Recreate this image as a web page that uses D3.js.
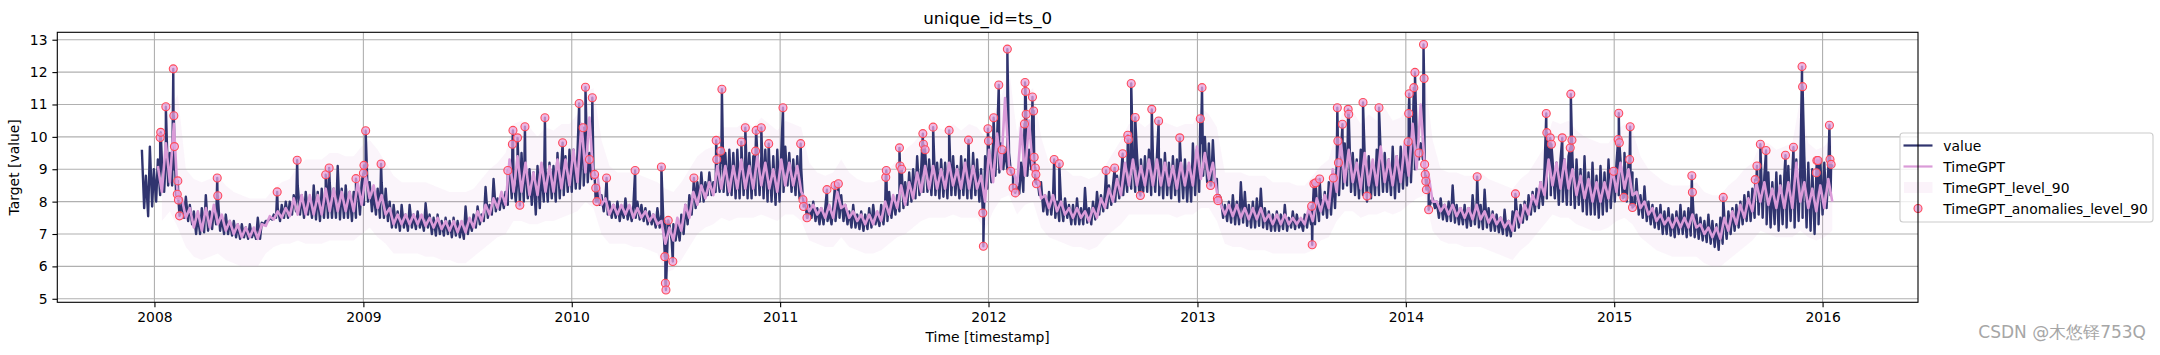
<!DOCTYPE html>
<html>
<head>
<meta charset="utf-8">
<script src="https://cdn.jsdelivr.net/npm/d3@7"></script>
<style>
  html, body { margin: 0; padding: 0; background: #ffffff; }
  svg { display: block; }
  text { font-family: "DejaVu Sans", sans-serif; }
</style>
</head>
<body>
<svg id="chart" width="2160" height="355"></svg>
<script>
// ---------------- data ----------------
const chartTitle = "unique_id=ts_0";
const xLabel = "Time [timestamp]";
const yLabel = "Target [value]";
const seriesNames = ["value", "TimeGPT", "TimeGPT_level_90", "TimeGPT_anomalies_level_90"];
const watermark = "CSDN @木悠铎753Q";

const startDate = "2007-12-10";   // first week (Monday) of the series
const lastDate = "2016-01-20";    // last observation
const tgStartWeek = 4;            // TimeGPT fit starts in week 4 (2008-01-07)

// weekly peak (excluding flagged anomalies) of "value", one per week from startDate
const valueHigh = [
  9.6,8.8,9.7,9.0,9.3,9.3,9.4,9.5,9.0,8.2, 8.0,8.15,7.9,7.7,7.6,7.8,8.2,7.7,7.8,7.8,
  7.5,7.6,7.4,7.4,7.3,7.3,7.2,7.3,7.1,7.5, 7.35,7.4,7.5,7.6,7.8,7.9,8.0,8.0,8.2,8.5,
  8.2,8.3,8.1,8.5,8.3,8.4,8.4,8.6,8.4,9.1, 8.4,8.5,8.3,8.3,8.4,8.6,
  8.8,8.6,8.3,8.4,8.6,8.4,8.0,7.9,7.7,7.9, 7.6,7.9,7.6,7.7,7.5,7.95,7.6,7.5,7.6,7.4,
  7.5,7.4,7.5,7.4,7.3,7.85,7.4,7.6,7.85,7.6, 8.45,7.9,8.7,8.1,8.2,8.3,9.0,8.7,8.8,9.5,
  8.9,9.0,8.9,9.1,9.0,9.0,9.2,9.1,9.5,9.2, 9.4,9.6,
  9.6,9.5,9.4,9.6,9.5,9.0,8.5,8.2,8.1,8.0, 7.9,8.0,7.8,8.1,7.8,7.9,8.0,7.9,7.8,7.7,
  7.6,7.8,7.6,7.4,7.3,7.3,7.3,7.6,7.9,8.2, 8.4,8.6,8.9,8.6,8.9,8.6,9.0,9.2,9.5,9.6,
  9.5,9.6,9.4,9.4,9.5,9.4,9.5,9.4,9.6,9.3, 9.4,9.6,
  9.5,9.7,9.5,9.3,9.4,9.0,8.0,7.9,8.0,7.8, 7.8,7.8,7.7,7.8,7.9,8.2,7.9,7.7,7.9,7.6,
  7.7,7.6,7.8,7.9,7.6,7.9,7.9,8.3,8.1,8.2, 8.3,8.6,8.9,9.0,9.4,9.0,9.6,9.3,9.2,9.2,
  9.3,9.2,9.3,9.4,9.1,9.4,9.3,9.2,9.5,9.3, 9.0,9.4,
  9.6,9.8,9.9,9.8,9.6,9.5,8.8,8.6,9.2,9.4, 9.6,9.5,8.8,8.6,8.2,8.3,8.1,8.0,8.0,8.1,
  7.9,7.9,8.1,7.8,8.42,7.8,8.0,8.3,8.2,8.3, 8.5,8.5,8.8,8.8,9.0,9.3,9.4,9.5,9.3,9.4,
  9.6,9.4,9.4,9.3,9.5,9.2,9.4,9.3,9.2,9.3, 9.1,9.8,
  9.6,9.8,10.0,9.8,9.9,8.7,8.1,7.9,8.0,8.2, 8.0,8.6,8.3,7.9,8.0,8.1,8.4,7.8,7.7,7.6,
  7.7,7.6,7.9,7.5,7.7,7.6,7.4,7.6,7.7,7.8, 8.0,8.1,8.3,8.6,8.6,9.2,9.4,9.8,9.5,9.5,
  9.3,9.6,9.4,9.4,9.2,9.6,9.5,9.5,9.3,9.7, 9.4,9.7,
  9.6,9.8,10.0,10.0,9.8,9.2,8.5,8.1,8.0,8.1, 7.9,8.0,8.5,7.9,7.8,7.9,7.8,8.2,7.9,7.9,
  8.37,7.8,7.7,7.6,7.5,7.75,7.4,7.7,7.8,7.9, 8.0,8.2,8.3,8.4,8.6,9.0,9.2,9.3,9.2,9.3,
  9.3,9.4,9.3,9.3,9.0,9.4,8.9,9.2,8.8,9.1, 8.9,9.3,
  8.8,9.2,9.3,9.5,9.2,8.9,8.7,8.2,8.47,8.0, 7.9,7.8,7.9,7.7,7.8,7.6,7.7,7.9,7.7,7.8,
  7.7,7.6,7.5,7.4,7.6,7.4,7.3,7.5,7.5,7.7, 7.8,7.9,8.0,8.2,8.3,8.4,8.6,8.8,8.8,8.9,
  8.6,8.9,8.8,8.8,9.1,8.9,9.3,9.0,9.4,9.2, 9.0,8.8,9.3,9.2,9.0,9.1
];

// weekly trough of "value"
const valueLow = [
  7.8,7.55,7.85,8.0,8.2,8.3,8.5,8.5,8.2,7.6, 7.5,7.4,7.3,7.0,7.0,7.05,7.1,7.15,7.3,7.1,
  7.0,7.0,6.95,6.9,6.85,6.9,6.85,6.9,6.85,6.85, 7.3,7.4,7.45,7.5,7.4,7.5,7.5,7.6,7.7,7.6,
  7.5,7.6,7.5,7.45,7.4,7.5,7.5,7.5,7.5,7.45, 7.5,7.5,7.4,7.5,7.6,7.9,
  8.0,7.7,7.6,7.5,7.5,7.4,7.2,7.2,7.1,7.2, 7.1,7.2,7.15,7.2,7.1,7.2,7.0,6.95,7.0,6.95,
  7.0,6.9,6.95,6.9,6.85,7.0,7.1,7.2,7.3,7.4, 7.5,7.6,7.7,7.75,7.8,7.9,8.1,8.0,8.0,8.0,
  8.1,7.9,7.6,7.8,8.0,8.0,8.1,8.0,8.1,8.2, 8.3,8.3,
  8.4,8.4,8.5,8.6,8.7,8.0,7.9,7.7,7.6,7.5, 7.5,7.4,7.5,7.45,7.4,7.5,7.45,7.4,7.3,7.3,
  7.2,7.2,7.1,6.9,6.8,6.8,6.8,7.0,7.3,7.6, 7.8,8.0,8.0,8.2,8.2,8.3,8.3,8.3,8.2,8.2,
  8.1,8.1,8.2,8.1,8.1,8.2,8.2,8.1,8.0,8.0, 7.9,8.0,
  8.3,8.5,8.3,8.2,8.1,8.0,7.5,7.5,7.4,7.3, 7.3,7.4,7.3,7.4,7.5,7.4,7.3,7.2,7.2,7.15,
  7.1,7.15,7.2,7.3,7.25,7.3,7.4,7.5,7.6,7.7, 7.8,7.9,8.0,8.1,8.2,8.3,8.3,8.2,8.2,8.1,
  8.15,8.1,8.2,8.2,8.1,8.2,8.1,8.1,8.2,8.0, 8.0,8.4,
  8.6,8.8,8.9,9.0,9.0,8.9,8.3,8.25,8.3,8.8, 9.0,8.6,8.2,7.7,7.6,7.6,7.5,7.4,7.4,7.5,
  7.3,7.3,7.3,7.3,7.35,7.3,7.45,7.6,7.7,7.8, 7.9,8.0,8.1,8.2,8.3,8.4,8.3,8.3,8.3,8.3,
  8.2,8.3,8.2,8.1,8.2,8.1,8.2,8.0,8.1,8.0, 8.0,8.2,
  8.3,8.8,8.6,8.5,8.5,8.2,7.5,7.4,7.35,7.3, 7.3,7.35,7.25,7.2,7.2,7.25,7.2,7.15,7.1,7.1,
  7.1,7.15,7.1,7.2,7.15,7.2,7.1,7.2,7.3,7.3, 7.4,7.6,7.5,7.6,7.8,8.2,8.4,8.5,8.3,8.2,
  8.1,8.2,8.0,8.1,8.2,8.2,8.3,8.3,8.2,8.1, 8.3,8.4,
  8.5,8.6,9.0,9.3,9.3,8.8,8.0,7.8,7.5,7.45, 7.4,7.4,7.35,7.3,7.3,7.2,7.25,7.3,7.2,7.15,
  7.2,7.1,7.1,7.05,7.0,6.95,6.93,7.1,7.2,7.35, 7.45,7.6,7.7,7.8,7.9,8.1,8.2,8.1,7.9,8.0,
  7.9,7.9,7.8,7.9,7.7,7.6,7.6,7.6,7.5,7.6, 7.7,7.8,
  8.0,8.2,8.1,8.0,7.9,7.9,7.6,7.5,7.4,7.3, 7.2,7.15,7.0,7.0,6.95,6.9,7.0,7.0,6.9,6.95,
  6.9,6.85,6.8,6.75,6.7,6.6,6.51,6.7,6.85,7.0, 7.1,7.2,7.3,7.4,7.4,7.5,7.6,7.5,7.3,7.2,
  7.3,7.1,7.3,7.2,7.4,7.2,7.4,7.5,7.2,7.1, 7.0,7.3,7.6,7.8,8.2,9.1
];

// TimeGPT fitted values, two-week peaks and troughs from tgStartWeek
const tgHigh = [
  9.1,9.8,10.4,8.1,7.8,7.7,7.8,7.9,7.6,7.4, 7.3,7.2,7.2,7.3,7.55,7.7,7.8,8.1,8.2,8.2,
  8.2,8.4,8.4,8.3,8.3,8.6,8.8,8.5,8.2,7.8, 7.6,7.6,7.6,7.6,7.5,7.5,7.4,7.4,7.4,7.5,
  7.7,7.9,8.1,8.3,9.3,9.4,9.2,8.9,9.2,9.1, 9.3,9.3,9.6,10.4,10.6,8.8,8.1,7.9,7.9,7.9,
  7.8,7.7,7.6,7.4,7.2,7.5,7.9,8.3,8.5,8.6, 9.1,9.1,9.1,9.3,9.1,9.4,9.2,9.0,9.3,9.2,
  9.1,8.1,7.9,7.8,7.9,8.3,7.9,7.7,7.6,7.6, 7.7,8.0,8.2,8.5,8.6,8.9,9.1,9.1,9.0,9.2,
  9.0,9.2,9.1,8.8,9.6,10.1,11.2,9.0,10.3,10.5, 8.9,8.2,8.2,8.0,7.8,7.8,7.7,7.8,8.1,8.4,
  8.7,9.2,9.3,9.1,9.3,9.3,9.2,9.1,9.2,9.2, 9.7,9.5,9.2,7.9,7.9,7.9,7.8,7.8,7.8,7.6,
  7.6,7.6,7.5,7.5,7.8,8.1,8.2,9.0,9.9,9.6, 9.2,9.5,9.3,9.7,9.3,9.4,9.8,10.4,11.0,8.8,
  8.0,7.9,7.9,7.8,7.8,7.9,7.7,7.6,7.5,7.4, 7.7,7.9,8.2,8.6,9.3,9.2,9.3,9.0,8.8,8.7,
  8.6,8.6,9.0,9.2,9.0,8.3,8.0,7.8,7.6,7.5, 7.5,7.5,7.6,7.3,7.2,7.2,7.5,7.7,7.9,8.1,
  8.6,8.6,8.4,8.5,8.6,9.2,8.6,8.4,8.5,8.7
];
const tgLow = [
  8.3,8.6,8.1,7.5,7.2,7.1,7.2,7.3,7.1,7.0, 6.9,6.9,6.85,7.25,7.45,7.5,7.55,7.6,7.6,7.6,
  7.6,7.7,7.7,7.7,7.7,7.9,8.1,7.8,7.6,7.3, 7.3,7.3,7.3,7.25,7.2,7.15,7.1,7.05,7.05,7.2,
  7.4,7.6,7.8,7.9,8.3,8.3,8.2,8.2,8.3,8.3, 8.4,8.5,8.6,8.9,8.7,7.9,7.6,7.6,7.6,7.5,
  7.5,7.4,7.3,6.7,6.8,7.1,7.5,7.9,8.1,8.2, 8.4,8.3,8.4,8.4,8.4,8.5,8.4,8.3,8.5,8.5,
  8.3,7.7,7.6,7.5,7.5,7.8,7.5,7.4,7.3,7.3, 7.4,7.6,7.8,7.9,8.1,8.3,8.4,8.4,8.4,8.5,
  8.4,8.4,8.4,8.0,8.6,9.0,9.1,8.5,8.8,8.9, 8.1,7.8,7.7,7.6,7.5,7.5,7.4,7.5,7.8,8.0,
  8.2,8.5,8.5,8.5,8.5,8.5,8.5,8.4,8.5,8.5, 8.7,8.7,8.3,7.6,7.55,7.5,7.45,7.45,7.4,7.3,
  7.3,7.3,7.3,7.3,7.4,7.7,7.8,8.3,8.6,8.6, 8.4,8.5,8.5,8.6,8.5,8.6,8.8,9.0,9.1,8.0,
  7.7,7.6,7.55,7.5,7.45,7.45,7.35,7.3,7.2,7.1, 7.35,7.6,7.9,8.2,8.5,8.4,8.4,8.2,8.1,8.0,
  8.0,8.1,8.3,8.4,8.2,7.8,7.6,7.4,7.3,7.2, 7.2,7.2,7.2,7.0,6.9,6.85,7.1,7.3,7.5,7.7,
  8.0,7.9,7.8,7.8,7.8,8.0,7.8,7.7,7.8,8.0
];

// TimeGPT 90% interval, two-week readings
const bandHigh = [
  10.0,10.9,11.3,9.0,8.7,8.6,8.7,8.8,8.5,8.3, 8.2,8.1,8.1,8.1,8.4,8.6,8.7,9.1,9.3,9.3,
  9.3,9.5,9.5,9.4,9.4,9.7,9.9,9.6,9.2,8.8, 8.6,8.6,8.6,8.6,8.5,8.4,8.3,8.3,8.3,8.4,
  8.7,9.0,9.2,9.5,10.4,10.5,10.3,10.0,10.3,10.2, 10.4,10.4,10.7,11.4,11.5,9.9,9.1,8.9,8.9,8.9,
  8.8,8.7,8.6,8.4,8.3,8.6,9.0,9.4,9.6,9.7, 10.3,10.3,10.3,10.5,10.3,10.6,10.4,10.2,10.5,10.4,
  10.3,9.2,8.9,8.8,8.9,9.3,8.9,8.7,8.6,8.6, 8.7,9.0,9.3,9.6,9.8,10.1,10.3,10.3,10.2,10.4,
  10.2,10.4,10.3,10.0,10.7,11.2,12.1,10.1,11.3,11.5, 10.0,9.2,9.2,9.0,8.8,8.8,8.7,8.8,9.1,9.5,
  9.9,10.4,10.5,10.3,10.5,10.5,10.4,10.3,10.4,10.4, 10.9,10.7,10.3,8.9,8.9,8.9,8.8,8.8,8.8,8.6,
  8.6,8.6,8.5,8.5,8.8,9.1,9.3,10.2,11.0,10.8, 10.4,10.7,10.5,10.9,10.5,10.6,11.0,11.4,11.9,9.9,
  9.0,8.9,8.9,8.8,8.8,8.9,8.7,8.6,8.5,8.4, 8.7,8.9,9.3,9.7,10.5,10.4,10.5,10.2,10.0,9.9,
  9.8,9.8,10.2,10.4,10.2,9.4,9.0,8.8,8.6,8.5, 8.5,8.5,8.6,8.3,8.2,8.2,8.5,8.7,9.0,9.2,
  9.8,9.8,9.6,9.7,9.8,11.2,9.8,9.6,9.7,10.0
];
const bandLow = [
  7.4,7.7,7.2,6.6,6.3,6.2,6.3,6.4,6.2,6.1, 6.0,6.0,6.0,6.4,6.6,6.7,6.7,6.8,6.7,6.7,
  6.7,6.8,6.8,6.8,6.8,7.0,7.2,6.9,6.7,6.4, 6.4,6.4,6.4,6.3,6.3,6.2,6.2,6.1,6.1,6.3,
  6.5,6.7,6.9,7.0,7.4,7.4,7.3,7.3,7.4,7.4, 7.5,7.6,7.7,8.0,7.8,7.0,6.7,6.7,6.7,6.6,
  6.6,6.5,6.4,5.8,5.9,6.2,6.6,7.0,7.2,7.3, 7.5,7.4,7.5,7.5,7.5,7.6,7.5,7.4,7.6,7.6,
  7.4,6.8,6.7,6.6,6.6,6.9,6.6,6.5,6.4,6.4, 6.5,6.7,6.9,7.0,7.2,7.4,7.5,7.5,7.5,7.6,
  7.5,7.5,7.5,7.1,7.7,8.1,8.2,7.6,7.9,8.0, 7.2,6.9,6.8,6.7,6.6,6.6,6.5,6.6,6.9,7.1,
  7.3,7.6,7.6,7.6,7.6,7.6,7.6,7.5,7.6,7.6, 7.8,7.8,7.4,6.7,6.6,6.6,6.5,6.5,6.5,6.4,
  6.4,6.4,6.4,6.4,6.5,6.8,6.9,7.4,7.7,7.7, 7.5,7.6,7.6,7.7,7.6,7.7,7.9,8.1,8.2,7.1,
  6.8,6.7,6.7,6.6,6.6,6.6,6.5,6.4,6.3,6.2, 6.5,6.7,7.0,7.3,7.6,7.5,7.5,7.3,7.2,7.1,
  7.1,7.2,7.4,7.5,7.3,6.9,6.7,6.5,6.4,6.3, 6.3,6.3,6.3,6.1,6.0,6.0,6.2,6.4,6.6,6.8,
  7.1,7.0,6.9,6.9,6.9,7.1,6.9,6.8,6.9,7.1
];

// points flagged as anomalies (outside the 90% interval)
const anomalyDates = [
  "2008-01-11","2008-01-12","2008-01-21","2008-02-03","2008-02-04","2008-02-05","2008-02-10","2008-02-11",
  "2008-02-12","2008-02-14","2008-04-20","2008-04-21","2008-08-03","2008-09-07","2008-10-27","2008-11-02",
  "2008-12-19","2009-01-01","2009-01-02","2009-01-05","2009-02-01","2009-09-11","2009-09-19","2009-09-20",
  "2009-09-28","2009-10-02","2009-10-11","2009-11-15","2009-12-16","2010-01-14","2010-01-21","2010-01-25",
  "2010-02-01","2010-02-06","2010-02-10","2010-02-12","2010-02-14","2010-03-03","2010-04-22","2010-06-07",
  "2010-06-13","2010-06-14","2010-06-15","2010-06-19","2010-06-27","2010-08-03","2010-09-11","2010-09-12",
  "2010-09-19","2010-09-21","2010-10-25","2010-11-01","2010-11-19","2010-11-20","2010-11-29","2010-12-12",
  "2011-01-06","2011-02-06","2011-02-10","2011-02-11","2011-02-17","2011-03-24","2011-04-07","2011-04-13",
  "2011-07-05","2011-07-06","2011-07-29","2011-07-30","2011-08-02","2011-09-08","2011-09-09","2011-09-12",
  "2011-09-26","2011-10-24","2011-11-27","2011-12-22","2011-12-23","2011-12-31","2012-01-01","2012-01-10",
  "2012-01-19","2012-01-25","2012-02-03","2012-02-09","2012-02-13","2012-02-17","2012-03-04","2012-03-05",
  "2012-03-06","2012-03-07","2012-03-18","2012-03-20","2012-03-21","2012-03-23","2012-03-24","2012-03-25",
  "2012-04-25","2012-05-04","2012-07-25","2012-08-09","2012-08-23","2012-09-01","2012-09-02","2012-09-07",
  "2012-09-14","2012-09-23","2012-10-13","2012-10-25","2012-12-01","2013-01-06","2013-01-09","2013-01-24",
  "2013-02-05","2013-02-06","2013-07-20","2013-07-21","2013-07-24","2013-07-27","2013-08-03","2013-08-27",
  "2013-09-03","2013-09-04","2013-09-05","2013-09-12","2013-09-22","2013-09-23","2013-10-18","2013-10-25",
  "2013-11-15","2014-01-05","2014-01-06","2014-01-07","2014-01-15","2014-01-17","2014-01-24","2014-02-01",
  "2014-02-02","2014-02-03","2014-02-04","2014-02-05","2014-02-06","2014-02-10","2014-05-06","2014-07-12",
  "2014-09-04","2014-09-05","2014-09-11","2014-09-13","2014-10-02","2014-10-16","2014-10-17","2014-10-19",
  "2014-12-31","2015-01-08","2015-01-09","2015-01-10","2015-01-18","2015-01-28","2015-01-29","2015-02-02",
  "2015-05-17","2015-05-18","2015-07-11","2015-09-05","2015-09-08","2015-09-14","2015-09-24","2015-10-28",
  "2015-11-11","2015-11-26","2015-11-27","2015-12-21","2015-12-22","2015-12-24","2016-01-13","2016-01-14",
  "2016-01-16"
];
const anomalyValues = [
  9.98,10.14,10.93,12.1,10.65,9.7,8.23,8.64,
  8.05,7.56,8.73,8.18,8.3,9.28,8.83,9.04,
  8.71,8.88,9.12,10.19,9.16,8.96,9.77,10.2,
  9.97,7.89,10.31,10.59,9.82,11.03,10.28,11.53,
  9.3,11.21,8.84,8.42,8.0,8.73,8.96,9.07,
  6.3,5.48,5.27,7.42,6.15,8.73,9.89,9.3,
  9.56,11.47,9.84,10.28,9.56,10.2,10.28,9.79,
  10.9,9.79,8.06,7.85,7.5,8.37,8.5,8.55,
  8.75,8.96,9.66,9.1,9.0,10.1,9.77,9.6,
  10.3,10.2,9.9,7.65,6.62,10.25,9.87,10.59,
  11.6,9.6,12.71,8.94,8.42,8.27,10.4,11.68,
  11.4,10.7,11.23,10.8,9.37,9.04,8.84,8.55,
  9.3,9.17,8.96,9.04,9.48,10.05,9.92,11.65,
  10.6,8.19,10.85,10.49,9.97,10.56,11.52,8.5,
  8.1,8.03,7.86,6.67,8.55,8.58,8.7,8.73,
  10.9,9.87,9.2,10.39,10.85,10.7,11.06,8.17,
  10.9,9.85,10.72,11.33,11.52,11.99,9.5,12.85,
  11.8,9.15,8.84,8.63,8.37,7.75,8.77,8.24,
  10.72,10.13,9.97,9.77,9.97,9.66,11.32,9.9,
  8.94,9.92,10.73,9.82,8.13,9.3,10.31,7.82,
  8.8,8.29,8.13,8.68,9.1,9.77,9.58,9.43,
  9.68,12.17,11.55,8.89,9.27,9.27,10.36,9.3,
  9.15
];

const yTicks = [5, 6, 7, 8, 9, 10, 11, 12, 13];
const xTickYears = [2008, 2009, 2010, 2011, 2012, 2013, 2014, 2015, 2016];

// ---------------- layout / style ----------------
const W = 2160, H = 355;
const plot = { left: 57.3, right: 1918, top: 32.3, bottom: 302.3 };
const colors = {
  value: "#30346f",
  tg: "#da9bd8",
  band: "#da9bd8",
  anomFill: "#e6a3dc",
  anomEdge: "#ff4a5a",
  grid: "#b0b0b0"
};
const fontSize = 13.9;

// ---------------- build series ----------------
const parse = d3.utcParse("%Y-%m-%d");
const DAY = 864e5;
const t0 = parse(startDate);
const tEnd = parse(lastDate);
const addDays = (d, n) => new Date(d.getTime() + n * DAY);

const valuePts = [];
valueHigh.forEach((v, i) => valuePts.push({ d: addDays(t0, 7 * i), v }));
valueLow.forEach((v, i) => {
  let d = addDays(t0, 7 * i + 4);
  if (d > tEnd) d = tEnd;
  valuePts.push({ d, v });
});
const anomalies = anomalyDates.map((s, i) => ({ d: parse(s), v: anomalyValues[i] }));
anomalies.forEach(a => valuePts.push({ d: a.d, v: a.v }));
valuePts.sort((a, b) => a.d - b.d);

const tgPts = [];
tgHigh.forEach((v, p) => {
  tgPts.push({ d: addDays(t0, 7 * (tgStartWeek + 2 * p)), v });
  tgPts.push({ d: addDays(t0, 7 * (tgStartWeek + 2 * p) + 7), v: tgLow[p] });
});
const bandPts = bandHigh.map((v, p) => ({
  d: addDays(t0, 7 * (tgStartWeek + 2 * p) + 7), hi: v, lo: bandLow[p]
}));

// ---------------- scales ----------------
const span = tEnd - t0;
const x = d3.scaleUtc()
  .domain([new Date(t0.getTime() - 0.05 * span), new Date(tEnd.getTime() + 0.05 * span)])
  .range([plot.left, plot.right]);
const allV = valuePts.map(p => p.v).concat(bandHigh, bandLow);
const vMin = d3.min(allV), vMax = d3.max(allV);
const vPad = 0.05 * (vMax - vMin);
const y = d3.scaleLinear().domain([vMin - vPad, vMax + vPad]).range([plot.bottom, plot.top]);

// ---------------- draw ----------------
const svg = d3.select("#chart");
svg.append("rect").attr("width", W).attr("height", H).attr("fill", "#ffffff");

const clipId = "plotclip";
svg.append("clipPath").attr("id", clipId).append("rect")
  .attr("x", plot.left).attr("y", plot.top)
  .attr("width", plot.right - plot.left).attr("height", plot.bottom - plot.top);

// grid
const grid = svg.append("g");
xTickYears.forEach(yr => {
  const xx = x(Date.UTC(yr, 0, 1));
  grid.append("line").attr("x1", xx).attr("x2", xx).attr("y1", plot.top).attr("y2", plot.bottom)
    .attr("stroke", colors.grid).attr("stroke-width", 1.1);
});
yTicks.forEach(t => {
  grid.append("line").attr("x1", plot.left).attr("x2", plot.right).attr("y1", y(t)).attr("y2", y(t))
    .attr("stroke", colors.grid).attr("stroke-width", 1.1);
});

const g = svg.append("g").attr("clip-path", `url(#${clipId})`);

// band
g.append("path").datum(bandPts)
  .attr("d", d3.area().x(p => x(p.d)).y0(p => y(p.lo)).y1(p => y(p.hi)))
  .attr("fill", colors.band).attr("fill-opacity", 0.1);

// value line
g.append("path").datum(valuePts)
  .attr("d", d3.line().x(p => x(p.d)).y(p => y(p.v)))
  .attr("fill", "none").attr("stroke", colors.value).attr("stroke-width", 2.4)
  .attr("stroke-linejoin", "round");

// TimeGPT line
g.append("path").datum(tgPts)
  .attr("d", d3.line().x(p => x(p.d)).y(p => y(p.v)))
  .attr("fill", "none").attr("stroke", colors.tg).attr("stroke-width", 2.6)
  .attr("stroke-linejoin", "round");

// anomalies
g.selectAll("circle.anom").data(anomalies).join("circle")
  .attr("class", "anom")
  .attr("cx", a => x(a.d)).attr("cy", a => y(a.v)).attr("r", 4)
  .attr("fill", colors.anomFill).attr("fill-opacity", 0.75)
  .attr("stroke", colors.anomEdge).attr("stroke-width", 1.1);

// axes
const xAxis = d3.axisBottom(x)
  .tickValues(xTickYears.map(yr => new Date(Date.UTC(yr, 0, 1))))
  .tickFormat(d3.utcFormat("%Y")).tickSize(4.9).tickPadding(4.9);
const yAxis = d3.axisLeft(y).tickValues(yTicks).tickFormat(d3.format("d")).tickSize(4.9).tickPadding(4.9);

const gx = svg.append("g").attr("transform", `translate(0,${plot.bottom})`).call(xAxis);
const gy = svg.append("g").attr("transform", `translate(${plot.left},0)`).call(yAxis);
[gx, gy].forEach(ax => {
  ax.select(".domain").remove();
  ax.selectAll(".tick line").attr("stroke", "#000").attr("stroke-width", 1.1);
  ax.selectAll(".tick text").attr("font-size", fontSize).attr("fill", "#000")
    .attr("font-family", "DejaVu Sans");
});

// legend
const leg = svg.append("g");
leg.append("rect").attr("x", 1900).attr("y", 133).attr("width", 253).attr("height", 89)
  .attr("rx", 3).attr("fill", "#ffffff").attr("fill-opacity", 0.8)
  .attr("stroke", "#cccccc").attr("stroke-width", 1.1);
const rowY = [145.5, 166.5, 187.5, 208.5];
leg.append("line").attr("x1", 1903.5).attr("x2", 1932.5).attr("y1", rowY[0]).attr("y2", rowY[0])
  .attr("stroke", colors.value).attr("stroke-width", 2.2);
leg.append("line").attr("x1", 1903.5).attr("x2", 1932.5).attr("y1", rowY[1]).attr("y2", rowY[1])
  .attr("stroke", colors.tg).attr("stroke-width", 2.2);
leg.append("rect").attr("x", 1904).attr("y", rowY[2] - 5.5).attr("width", 28.5).attr("height", 11)
  .attr("fill", colors.band).attr("fill-opacity", 0.12);
leg.append("circle").attr("cx", 1918).attr("cy", rowY[3]).attr("r", 4)
  .attr("fill", colors.anomFill).attr("fill-opacity", 0.75)
  .attr("stroke", colors.anomEdge).attr("stroke-width", 1.1);
seriesNames.forEach((name, i) => {
  leg.append("text").attr("x", 1943.3).attr("y", rowY[i] + 5)
    .attr("font-size", fontSize).attr("fill", "#000").text(name);
});

// spines (drawn last)
svg.append("rect").attr("x", plot.left).attr("y", plot.top)
  .attr("width", plot.right - plot.left).attr("height", plot.bottom - plot.top)
  .attr("fill", "none").attr("stroke", "#000").attr("stroke-width", 1.1);

// titles
svg.append("text").attr("x", (plot.left + plot.right) / 2).attr("y", 23.5)
  .attr("text-anchor", "middle").attr("font-size", 16.7).attr("fill", "#000").text(chartTitle);
svg.append("text").attr("x", (plot.left + plot.right) / 2).attr("y", 342)
  .attr("text-anchor", "middle").attr("font-size", fontSize).attr("fill", "#000").text(xLabel);
svg.append("text").attr("transform", `translate(18.5,${(plot.top + plot.bottom) / 2}) rotate(-90)`)
  .attr("text-anchor", "middle").attr("font-size", fontSize).attr("fill", "#000").text(yLabel);

// watermark
svg.append("text").attr("x", 2146).attr("y", 337.5).attr("text-anchor", "end")
  .attr("font-family", "'Noto Sans CJK SC', 'DejaVu Sans', sans-serif")
  .attr("font-size", 17).attr("fill", "#a6a6a6").text(watermark);
</script>
</body>
</html>
